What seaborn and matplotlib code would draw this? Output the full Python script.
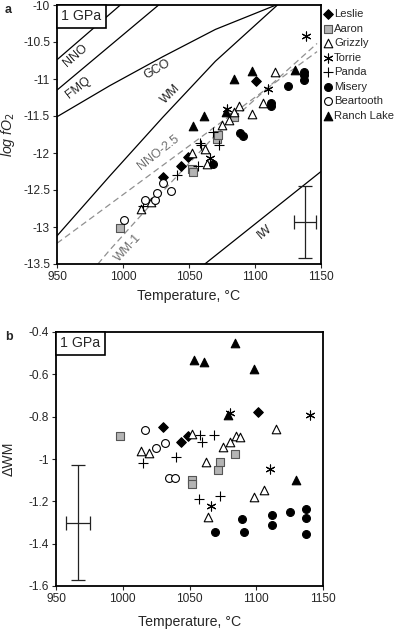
import numpy as np
import pandas as pd
import matplotlib
matplotlib.use("Agg")
import matplotlib.pyplot as plt
from matplotlib.offsetbox import AnchoredText
import seaborn as sns

sns.set_style("white")
plt.rcParams['font.family'] = ['Liberation Sans', 'DejaVu Sans']
plt.rcParams['axes.unicode_minus'] = False

# ---- data ----
groups = ["Leslie", "Aaron", "Grizzly", "Torrie", "Panda", "Misery", "Beartooth", "Ranch Lake"]

# panel a: temperature (C) and log fO2
a_T = {
    "Leslie": [1030, 1044, 1049, 1101],
    "Aaron": [998, 1052, 1053, 1071, 1072, 1084],
    "Grizzly": [1014, 1021, 1052, 1062, 1064, 1075, 1080, 1084, 1088, 1098, 1106, 1115],
    "Torrie": [1066, 1079, 1110, 1139],
    "Panda": [1015, 1041, 1057, 1058, 1059, 1068, 1073],
    "Misery": [1068, 1089, 1091, 1112, 1112, 1125, 1137, 1137, 1137],
    "Beartooth": [1001, 1017, 1024, 1026, 1030, 1036],
    "Ranch Lake": [1053, 1061, 1078, 1084, 1098, 1130],
}
a_fo2 = {
    "Leslie": [-12.32, -12.18, -12.05, -11.03],
    "Aaron": [-13.02, -12.21, -12.25, -11.81, -11.75, -11.51],
    "Grizzly": [-12.76, -12.66, -12.00, -11.95, -12.15, -11.62, -11.55, -11.44, -11.36, -11.47, -11.32, -10.90],
    "Torrie": [-12.07, -11.40, -11.14, -10.42],
    "Panda": [-12.72, -12.30, -12.18, -11.86, -11.89, -11.71, -11.89],
    "Misery": [-12.15, -11.73, -11.77, -11.33, -11.37, -11.10, -10.90, -10.95, -11.01],
    "Beartooth": [-12.91, -12.63, -12.63, -12.54, -12.40, -12.51],
    "Ranch Lake": [-11.63, -11.50, -11.44, -11.00, -10.89, -10.88],
}

# panel b: temperature (C) and delta WM
b_T = {
    "Leslie": [1030, 1044, 1049, 1101],
    "Aaron": [998, 1052, 1052, 1071, 1073, 1084],
    "Grizzly": [1014, 1020, 1052, 1062, 1064, 1075, 1080, 1085, 1088, 1098, 1106, 1115],
    "Torrie": [1066, 1080, 1110, 1140],
    "Panda": [1015, 1040, 1057, 1058, 1059, 1068, 1073],
    "Misery": [1069, 1089, 1091, 1112, 1112, 1125, 1137, 1137, 1137],
    "Beartooth": [1017, 1025, 1032, 1035, 1039],
    "Ranch Lake": [1053, 1061, 1079, 1084, 1098, 1130],
}
b_dwm = {
    "Leslie": [-0.85, -0.92, -0.89, -0.78],
    "Aaron": [-0.89, -1.10, -1.12, -1.05, -1.015, -0.975],
    "Grizzly": [-0.96, -0.97, -0.88, -1.015, -1.275, -0.945, -0.92, -0.89, -0.895, -1.18, -1.145, -0.86],
    "Torrie": [-1.22, -0.785, -1.045, -0.79],
    "Panda": [-1.02, -0.99, -1.19, -0.885, -0.92, -0.885, -1.175],
    "Misery": [-1.345, -1.285, -1.345, -1.265, -1.31, -1.25, -1.235, -1.28, -1.355],
    "Beartooth": [-0.865, -0.95, -0.925, -1.09, -1.09],
    "Ranch Lake": [-0.53, -0.54, -0.79, -0.45, -0.575, -1.10],
}

# oxygen buffer curves (T and log fO2)
buffer_names = ["NNO", "FMQ", "GCO", "WM", "IW"]
buffer_T = [[950, 998], [950, 1027], [950, 990, 1030, 1070, 1116],
            [950, 990, 1030, 1070, 1117], [1062, 1150]]
buffer_fo2 = [[-10.74, -10.0], [-11.15, -10.0], [-11.51, -11.09, -10.70, -10.33, -10.0],
              [-13.12, -12.31, -11.52, -10.76, -10.0], [-13.5, -12.25]]
dashed_names = ["NNO-2.5", "WM-1"]
dashed_T = [[950, 1147], [981, 990, 1030, 1070, 1117, 1147]]
dashed_fo2 = [[-13.22, -10.63], [-13.5, -13.31, -12.52, -11.76, -11.0, -10.52]]

# error bars (T, value, T error, value error)
err_a = (1138, -12.93, 8.2, 0.49)
err_b = (966.5, -1.30, 9.2, 0.27)

# ---- marker styles ----
styles = {
    "Leslie": dict(marker="D", color="black", edgecolor="black", s=24),
    "Aaron": dict(marker="s", color="#b4b4b4", edgecolor="#555555", s=38),
    "Grizzly": dict(marker="^", color="white", edgecolor="black", s=38),
    "Torrie": dict(marker=(6, 2, 0), color="black", s=42),
    "Panda": dict(marker="+", color="black", s=42),
    "Misery": dict(marker="o", color="black", edgecolor="black", s=32),
    "Beartooth": dict(marker="o", color="white", edgecolor="black", s=32),
    "Ranch Lake": dict(marker="^", color="black", edgecolor="black", s=38),
}

fig = plt.figure(figsize=(3.97, 6.31), dpi=100)
ax1 = fig.add_axes([57 / 397, 1 - 264 / 631, 264 / 397, 259 / 631])
ax2 = fig.add_axes([56 / 397, 1 - 586 / 631, 267 / 397, 254 / 631])

tick_fs = 8.6
lab_fs = 10.2


def draw_points(ax, Tdict, vdict, legend):
    for g in groups:
        df = pd.DataFrame({"T": Tdict[g], "v": vdict[g]})
        sns.scatterplot(data=df, x="T", y="v", ax=ax, label=g if legend else None,
                        linewidth=0.8, zorder=3, **styles[g])


# panel a
for name, T, f in zip(buffer_names, buffer_T, buffer_fo2):
    sns.lineplot(x=T, y=f, ax=ax1, color="black", lw=0.9, zorder=1, sort=False)
for name, T, f in zip(dashed_names, dashed_T, dashed_fo2):
    sns.lineplot(x=T, y=f, ax=ax1, color="#909090", lw=0.9, dashes=False,
                 ls=(0, (5, 3)), zorder=1, sort=False)
draw_points(ax1, a_T, a_fo2, True)
ax1.errorbar(err_a[0], err_a[1], xerr=err_a[2], yerr=err_a[3], color="#222222",
             lw=0.9, capsize=5, capthick=0.9, zorder=2)

label_kw = dict(fontsize=9, rotation_mode="anchor", ha="center", va="center")
ax1.text(964, -10.69, "NNO", rotation=41, **label_kw)
ax1.text(966, -11.12, "FMQ", rotation=38, **label_kw)
ax1.text(1026, -10.87, "GCO", rotation=30, **label_kw)
ax1.text(1036, -11.2, "WM", rotation=45, **label_kw)
ax1.text(1107, -13.06, "IW", rotation=40, **label_kw)
ax1.text(1027, -12.0, "NNO-2.5", rotation=38, color="#707070", **label_kw)
ax1.text(1004, -13.28, "WM-1", rotation=47, color="#707070", **label_kw)

ax1.set_xlim(950, 1150)
ax1.set_ylim(-13.5, -10)
ax1.set_xticks([950, 1000, 1050, 1100, 1150])
yt_a = np.arange(-13.5, -9.99, 0.5)
ax1.set_yticks(yt_a)
ax1.set_yticklabels(["{:g}".format(v) for v in yt_a])
ax1.set_xlabel("Temperature, °C", fontsize=lab_fs)
ax1.set_ylabel("log fO$_2$", fontsize=lab_fs, style="italic")
ax1.xaxis.set_label_coords(0.5, -0.098)
ax1.yaxis.set_label_coords(-0.15, 0.5)
ax1.legend(loc="upper left", bbox_to_anchor=(1.0, 0.99), frameon=False, fontsize=8.1,
           handletextpad=0.1, labelspacing=0.4, borderaxespad=0, borderpad=0.15,
           handlelength=0.9)

# panel b
draw_points(ax2, b_T, b_dwm, False)
ax2.errorbar(err_b[0], err_b[1], xerr=err_b[2], yerr=err_b[3], color="#222222",
             lw=0.9, capsize=5, capthick=0.9, zorder=2)
ax2.set_xlim(950, 1150)
ax2.set_ylim(-1.6, -0.4)
ax2.set_xticks([950, 1000, 1050, 1100, 1150])
yt_b = [-1.6, -1.4, -1.2, -1.0, -0.8, -0.6, -0.4]
ax2.set_yticks(yt_b)
ax2.set_yticklabels(["{:g}".format(v) for v in yt_b])
ax2.set_xlabel("Temperature, °C", fontsize=lab_fs)
ax2.set_ylabel("ΔWM", fontsize=lab_fs)
ax2.xaxis.set_label_coords(0.5, -0.115)
ax2.yaxis.set_label_coords(-0.15, 0.5)

for ax in (ax1, ax2):
    for sp in ax.spines.values():
        sp.set_color("black")
        sp.set_linewidth(1.3)
    ax.tick_params(axis="both", which="major", direction="out", length=3, width=0.8,
                   labelsize=tick_fs, pad=2, left=True, bottom=True)
    box = AnchoredText("1 GPa", loc="upper left", prop=dict(size=10.2), pad=0.3,
                       borderpad=0, frameon=True)
    box.patch.set_edgecolor("black")
    box.patch.set_linewidth(1.2)
    box.patch.set_boxstyle("square,pad=0")
    box.set_zorder(5)
    ax.add_artist(box)

fig.text(5 / 397, 1 - 10 / 631, "a", fontsize=9, fontweight="bold", va="center")
fig.text(5 / 397, 1 - 337 / 631, "b", fontsize=9, fontweight="bold", va="center")

fig.savefig("out.png", dpi=100)
